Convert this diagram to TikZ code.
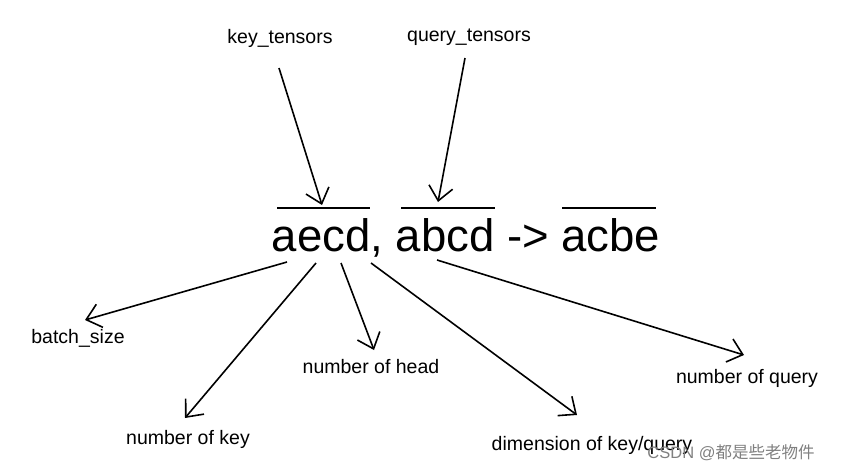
\documentclass[tikz,border=0pt]{standalone}
\usepackage{fontspec}
\setmainfont{Liberation Sans}
\newfontfamily\cjk{Noto Sans CJK SC}
\usetikzlibrary{arrows.meta}
\begin{document}
\begin{tikzpicture}[x=1pt,y=-1pt,
  lab/.style={font=\fontsize{19.5}{22}\selectfont,inner sep=0pt},
  arr/.style={-{Straight Barb[length=14pt,width=24pt]},line width=1.6pt},
  bar/.style={line width=1.6pt}]
\useasboundingbox (0,0) rectangle (842,472);
\node[lab] (k) at (280,38) {key\_tensors};
\node[lab] (q) at (469,37) {query\_tensors};
\node[inner sep=0pt,font=\fontsize{45.5}{50}\selectfont] (m) at (466,238) {aecd, abcd -> acbe};
\draw[bar] (277,208) -- (370,208);
\draw[bar] (401,208) -- (495,208);
\draw[bar] (562,208) -- (656,208);
\coordinate (ke) at (322,205);
\coordinate (qe) at (438,202);
\draw[arr] (279,68) -- (ke);
\draw[arr] (465,58) -- (qe);
\node[lab] (bs) at (78,338) {batch\_size};
\node[lab] (nk) at (188,439) {number of key};
\node[lab] (nh) at (371,367) {number of head};
\node[lab] (nq) at (747,378) {number of query};
\node[lab] (dk) at (592,445) {dimension of key/query};
\node[lab,text=gray,font=\fontsize{16.5}{18}\selectfont] (wm) at (731,453) {CSDN @{\cjk 都是些老物件}};
\draw[arr] (287,262) -- (85,320);
\draw[arr] (316,263) -- (185,418);
\draw[arr] (341,263) -- (374,350);
\draw[arr] (371,263) -- (577,415);
\draw[arr] (437,260) -- (744,355);
\end{tikzpicture}
\end{document}
